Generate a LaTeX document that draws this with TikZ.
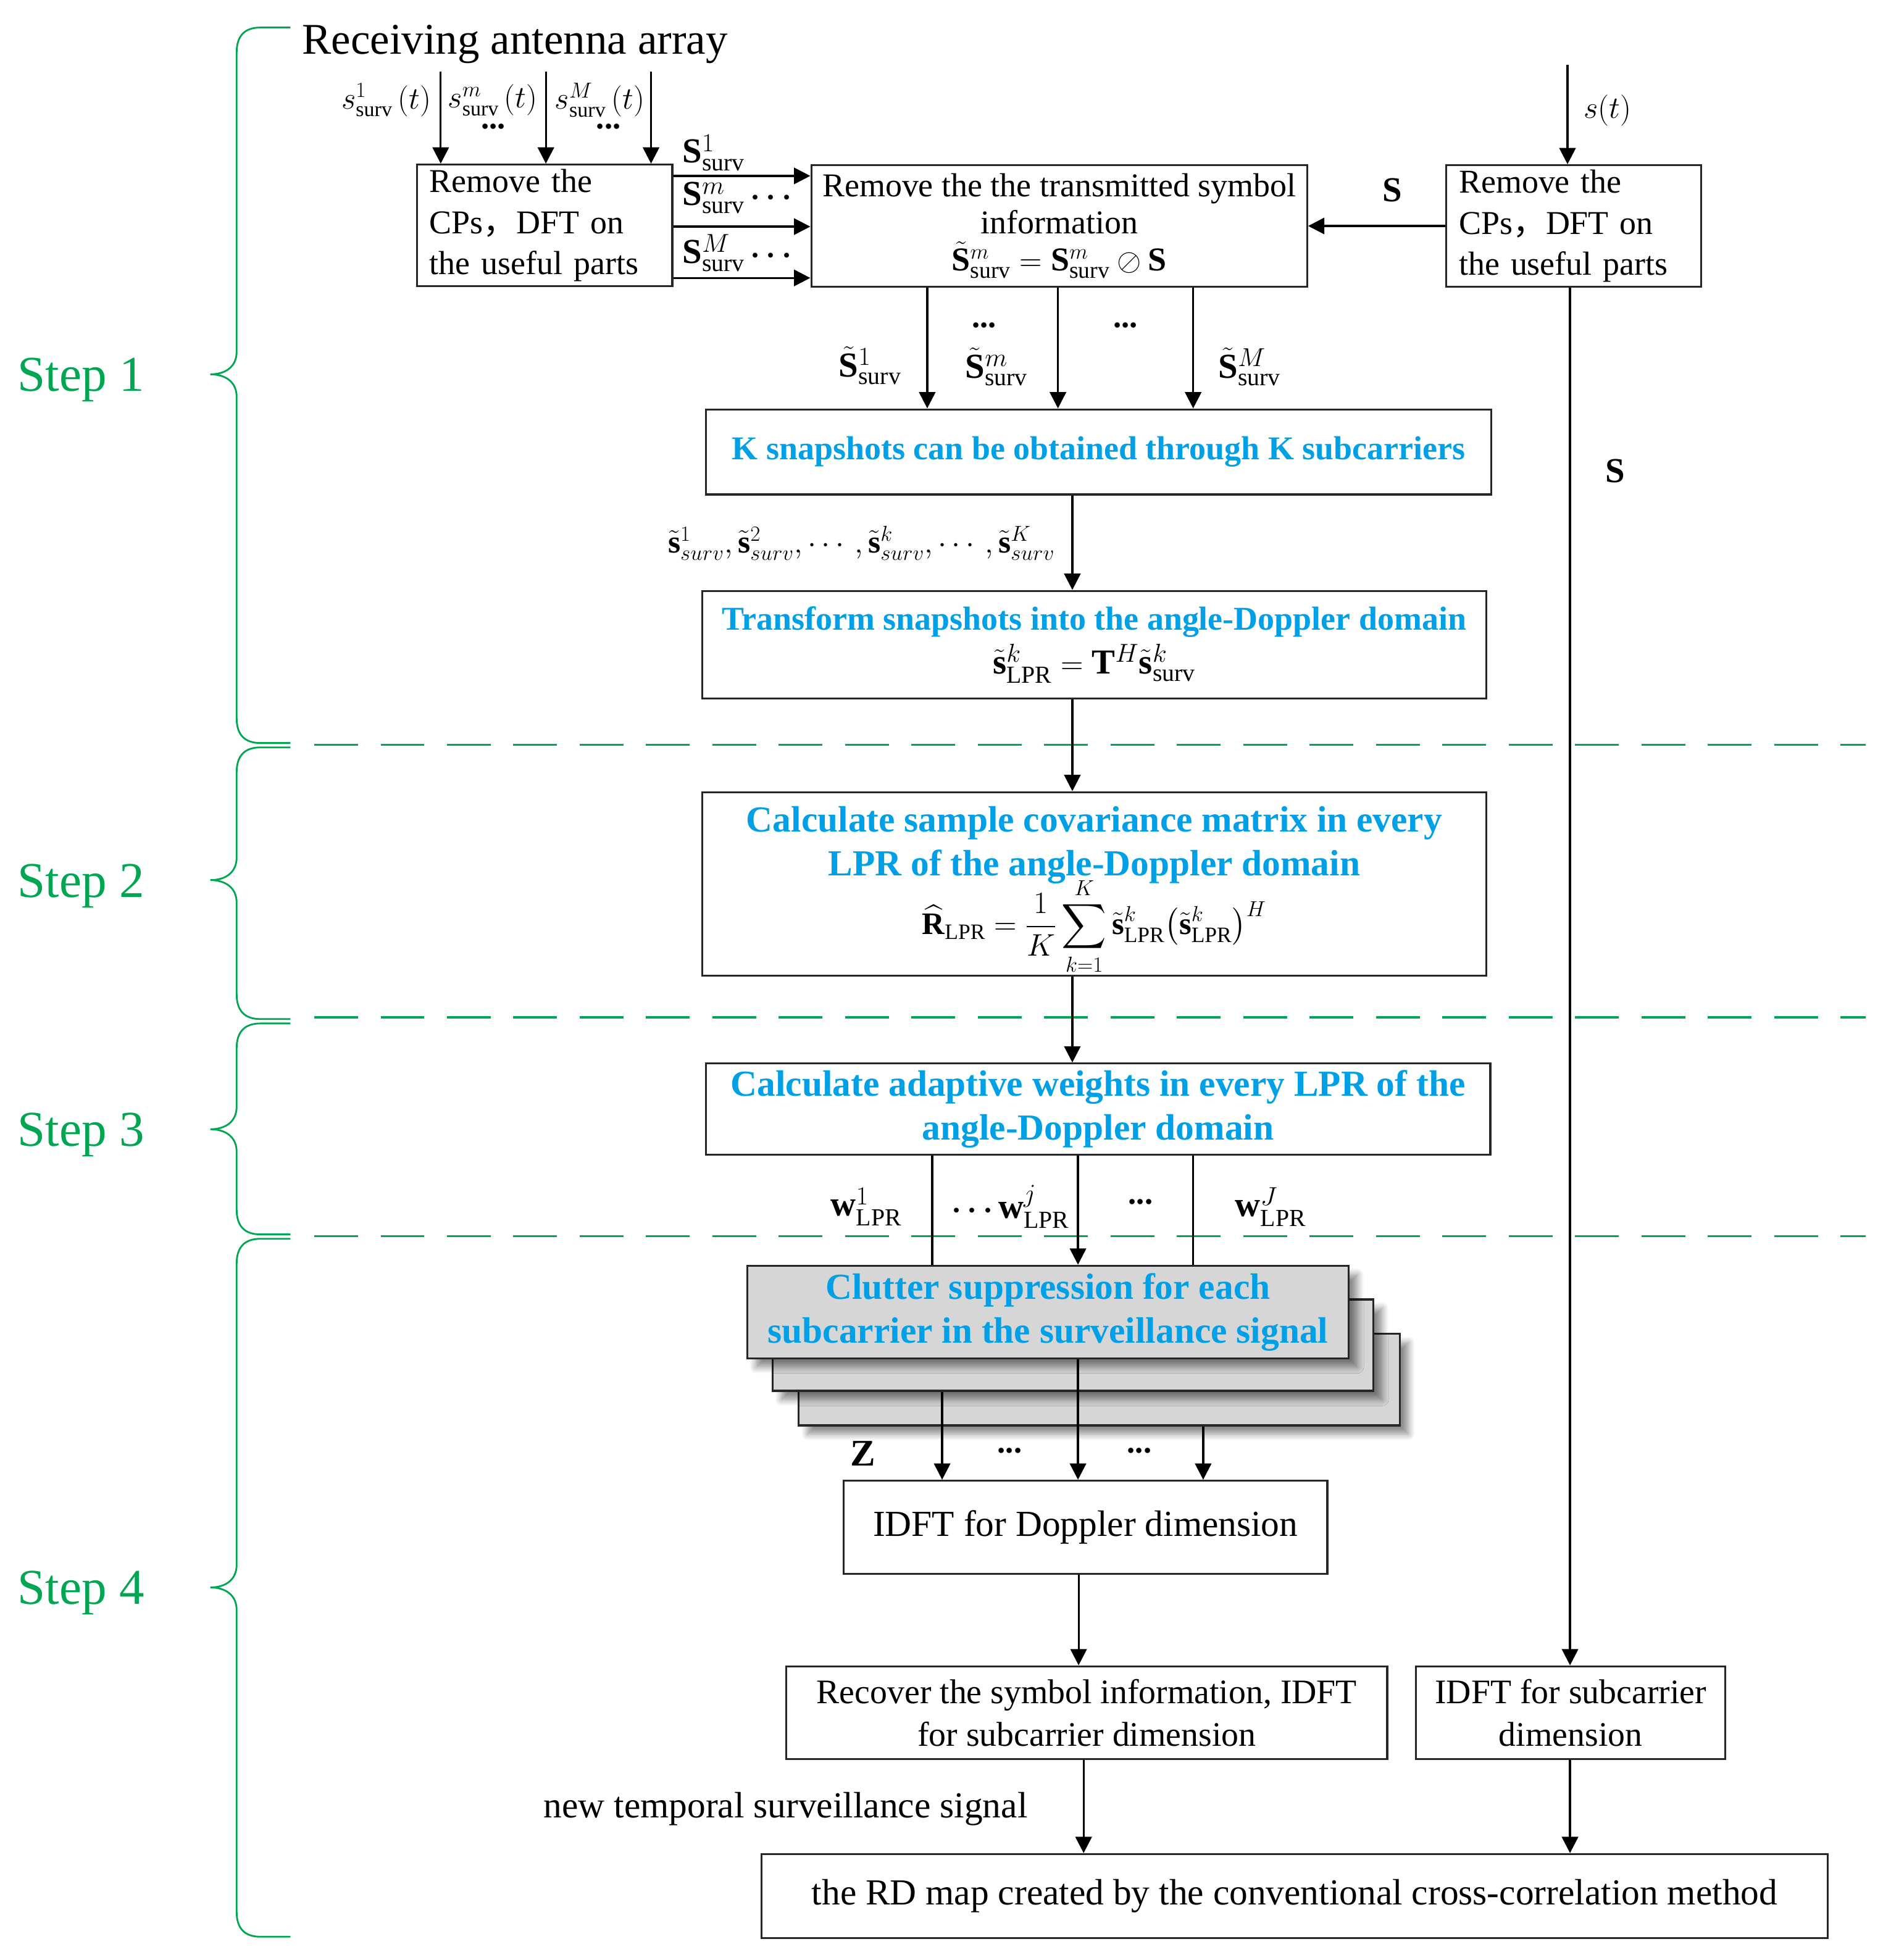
\documentclass[tikz,border=0pt]{standalone}
\usepackage{amsmath}
\usepackage{bm}
\usepackage{fontspec}
\setmainfont{Liberation Serif}
\newfontfamily\cjk{Noto Sans CJK SC}
\usepackage{tikz}
\usetikzlibrary{arrows.meta, calc, shadows, shadows.blur}
\definecolor{stepgreen}{RGB}{0,166,81}
\definecolor{procblue}{RGB}{0,160,230}

\begin{document}
\begin{tikzpicture}[x=1pt,y=1pt,yscale=-1,xscale=1,
    box/.style={draw=black!85, line width=1.6pt, fill=white, inner sep=0pt, font=\fontsize{26.6}{33}\selectfont},
    bluebox/.style={box, text=procblue, align=center, font=\bfseries\fontsize{29.3}{35.3}\selectfont},
    bigbox/.style={box, align=center, font=\fontsize{29.3}{35}\selectfont},
    stack/.style={box, fill=black!16, blur shadow={shadow xshift=7pt, shadow yshift=-7pt, shadow blur radius=5pt, shadow blur steps=8, shadow opacity=45}},
    arr/.style={line width=1.6pt, -{Triangle[length=13pt,width=13pt]}},
    wire/.style={line width=1.6pt},
    brc/.style={draw=stepgreen, line width=1.4pt},
    sep/.style={draw=stepgreen, line width=1.8pt, dash pattern=on 35pt off 18pt},
    lbl/.style={inner sep=0pt, font=\fontsize{28}{30}\selectfont},
    dts/.style={inner sep=0pt, font=\bfseries\fontsize{26}{28}\selectfont},
    steplbl/.style={anchor=base west, inner sep=0pt, text=stepgreen, font=\fontsize{40}{44}\selectfont}]
        \useasboundingbox (0,0) rectangle (1510,1565.6);

        %Step labels
        \node[steplbl] (step1) at (14,312.5) {Step 1};
        \node[steplbl] (step2) at (14,716.5) {Step 2};
        \node[steplbl] (step3) at (14,915.5) {Step 3};
        \node[steplbl] (step4) at (14,1281.5) {Step 4};

        %Brace of step 1
        \draw[brc] (232,22) -- (208,22) .. controls (195,22) and (189,29) .. (189,42) -- (189,281) .. controls (189,293) and (180,299) .. (168,299) .. controls (180,299) and (189,305) .. (189,317) -- (189,573.5) .. controls (189,586.5) and (195,593.5) .. (208,593.5) -- (232,593.5);
        %Brace of step 2
        \draw[brc] (232,597) -- (208,597) .. controls (195,597) and (189,604) .. (189,617) -- (189,685) .. controls (189,697) and (180,703) .. (168,703) .. controls (180,703) and (189,709) .. (189,721) -- (189,794) .. controls (189,807) and (195,814) .. (208,814) -- (232,814);
        %Brace of step 3
        \draw[brc] (232,817.5) -- (208,817.5) .. controls (195,817.5) and (189,824.5) .. (189,837.5) -- (189,884) .. controls (189,896) and (180,902) .. (168,902) .. controls (180,902) and (189,908) .. (189,920) -- (189,966) .. controls (189,979) and (195,986) .. (208,986) -- (232,986);
        %Brace of step 4
        \draw[brc] (232,989.5) -- (208,989.5) .. controls (195,989.5) and (189,996.5) .. (189,1009.5) -- (189,1250) .. controls (189,1262) and (180,1268) .. (168,1268) .. controls (180,1268) and (189,1274) .. (189,1286) -- (189,1527) .. controls (189,1540) and (195,1547) .. (208,1547) -- (232,1547);

        %Dashed separators
        \draw[sep] (251,595) -- (1490,595);
        \draw[sep] (251,812.5) -- (1490,812.5);
        \draw[sep] (251,987.5) -- (1490,987.5);

        %Title
        \node[anchor=base west, inner sep=0pt, font=\fontsize{35}{40}\selectfont] (recv) at (241,43) {Receiving antenna array};

        %Boxes of step 1
        \node[box, minimum width=204pt, minimum height=97pt, text width=184pt, align=left] (remcp) at (435,180) {Remove the\\ CPs{\cjk ，}DFT on\\ the useful parts};
        \node[box, minimum width=396pt, minimum height=97pt, align=center, font=\fontsize{26.6}{29.5}\selectfont] (remsym) at (846,180.5) {Remove the the transmitted symbol\\ information\\ $\tilde{\mathbf{S}}^{m}_{\mathrm{surv}}=\mathbf{S}^{m}_{\mathrm{surv}}\oslash\mathbf{S}$};
        \node[box, minimum width=203.5pt, minimum height=97pt, text width=183.5pt, align=left] (remref) at (1257,180.5) {Remove the\\ CPs{\cjk ，}DFT on\\ the useful parts};
        \node[bluebox, minimum width=627pt, minimum height=68pt, font=\bfseries\fontsize{26.6}{32}\selectfont] (ksnap) at (877.5,361) {K snapshots can be obtained through K subcarriers};
        \node[bluebox, minimum width=626pt, minimum height=86pt, font=\bfseries\fontsize{26.6}{35}\selectfont] (trans) at (874,515) {Transform snapshots into the angle-Doppler domain\\ {\color{black}\fontsize{28}{35}\selectfont$\tilde{\mathbf{s}}^{k}_{\mathrm{LPR}}=\mathbf{T}^{H}\tilde{\mathbf{s}}^{k}_{\mathrm{surv}}$}};

        %Box of step 2
        \node[bluebox, minimum width=626pt, minimum height=146.5pt] (covm) at (874,706) {\rule{0pt}{31pt}Calculate sample covariance matrix in every\\ LPR of the angle-Doppler domain\\[-6pt] {\color{black}\fontsize{25}{30}\selectfont$\displaystyle\widehat{\mathbf{R}}_{\mathrm{LPR}}=\frac{1}{K}\sum_{k=1}^{K}\tilde{\mathbf{s}}^{k}_{\mathrm{LPR}}\big(\tilde{\mathbf{s}}^{k}_{\mathrm{LPR}}\big)^{H}$}};

        %Box of step 3
        \node[bluebox, minimum width=626.6pt, minimum height=73pt] (wts) at (877,886) {Calculate adaptive weights in every LPR of the\\ angle-Doppler domain};

        %Boxes of step 4
        \node[stack, minimum width=480pt, minimum height=73pt] (clut3) at (878,1102) {};
        \node[stack, minimum width=480pt, minimum height=73pt] (clut2) at (857,1074.5) {};
        \node[stack, minimum width=480.5pt, minimum height=74pt, text=procblue, align=center, font=\bfseries\fontsize{29.3}{35}\selectfont] (clut1) at (837,1048) {Clutter suppression for each\\ subcarrier in the surveillance signal};
        \node[bigbox, minimum width=386.4pt, minimum height=74.5pt] (idftd) at (867,1220) {IDFT for Doppler dimension};
        \node[bigbox, minimum width=480pt, minimum height=74pt, font=\fontsize{27.5}{34}\selectfont] (recov) at (868,1368) {Recover the symbol information, IDFT\\ for subcarrier dimension};
        \node[bigbox, minimum width=247pt, minimum height=74pt, font=\fontsize{27.5}{34}\selectfont] (idfts) at (1254.5,1368) {IDFT for subcarrier\\ dimension};
        \node[bigbox, minimum width=851.6pt, minimum height=67pt] (rdmap) at (1034,1514.5) {the RD map created by the conventional cross-correlation method};

        %Free ends and x positions of the connectors
        \coordinate (ant1) at (352,57);
        \coordinate (ant2) at (436,57);
        \coordinate (ant3) at (520,57);
        \coordinate (sttop) at (1252,52);
        \coordinate (ra) at (537,140.5);
        \coordinate (rb) at (537,181);
        \coordinate (rc) at (537,222);
        \coordinate (ma) at (740.6,0);
        \coordinate (mb) at (845,0);
        \coordinate (mc) at (953,0);
        \coordinate (rx) at (1254,0);
        \coordinate (cx) at (856.5,0);
        \coordinate (wa) at (744.6,0);
        \coordinate (wb) at (861,0);
        \coordinate (wc) at (953,0);
        \coordinate (za) at (752.5,0);
        \coordinate (zb) at (861,0);
        \coordinate (zc) at (961,0);
        \coordinate (xd) at (861.5,0);
        \coordinate (xe) at (865.5,0);

        %Antenna inputs
        \draw[arr] (ant1) -- (ant1 |- remcp.north);
        \draw[arr] (ant2) -- (ant2 |- remcp.north);
        \draw[arr] (ant3) -- (ant3 |- remcp.north);
        \draw[arr] (sttop) -- (sttop |- remref.north);
        %Surveillance channels to symbol removal
        \draw[arr] (remcp.east |- ra) -- (remsym.west |- ra);
        \draw[arr] (remcp.east |- rb) -- (remsym.west |- rb);
        \draw[arr] (remcp.east |- rc) -- (remsym.west |- rc);
        %Reference symbols
        \draw[arr] (remref.west) -- (remsym.east);
        \draw[arr] (remref.south -| rx) -- (idfts.north -| rx);
        %Down to the snapshots
        \draw[arr] (remsym.south -| ma) -- (ksnap.north -| ma);
        \draw[arr] (remsym.south -| mb) -- (ksnap.north -| mb);
        \draw[arr] (remsym.south -| mc) -- (ksnap.north -| mc);
        \draw[arr] (ksnap.south -| cx) -- (trans.north -| cx);
        \draw[arr] (trans.south -| cx) -- (covm.north -| cx);
        \draw[arr] (covm.south -| cx) -- (wts.north -| cx);
        %Weights to clutter suppression
        \draw[wire] (wts.south -| wa) -- (clut1.north -| wa);
        \draw[arr] (wts.south -| wb) -- (clut1.north -| wb);
        \draw[wire] (wts.south -| wc) -- (clut1.north -| wc);
        %Clutter suppression to IDFT
        \draw[arr] (clut2.south -| za) -- (idftd.north -| za);
        \draw[arr] (clut1.south -| zb) -- (idftd.north -| zb);
        \draw[arr] (clut3.south -| zc) -- (idftd.north -| zc);
        \draw[arr] (idftd.south -| xd) -- (recov.north -| xd);
        \draw[arr] (recov.south -| xe) -- (rdmap.north -| xe);
        \draw[arr] (idfts.south -| rx) -- (rdmap.north -| rx);

        %Signal labels
        \node[lbl, font=\fontsize{24}{26}\selectfont] (lbsone) at (308.5,80) {$s^{1}_{\mathrm{surv}}\,(t)$};
        \node[lbl, font=\fontsize{24}{26}\selectfont] (lbsm) at (393.5,80) {$s^{m}_{\mathrm{surv}}\,(t)$};
        \node[lbl, font=\fontsize{24}{26}\selectfont] (lbsM) at (479,80) {$s^{M}_{\mathrm{surv}}\,(t)$};
        \node[dts] (dta) at (394,101) {...};
        \node[dts] (dtb) at (486,101) {...};
        \node[lbl, anchor=west] (lbSone) at (545,122) {$\mathbf{S}^{1}_{\mathrm{surv}}$};
        \node[lbl, anchor=west] (lbSm) at (545,158) {$\mathbf{S}^{m}_{\mathrm{surv}}\,\bm{\cdots}$};
        \node[lbl, anchor=west] (lbSM) at (545,202) {$\mathbf{S}^{M}_{\mathrm{surv}}\,\bm{\cdots}$};
        \node[lbl] (lbS) at (1112,152) {$\mathbf{S}$};
        \node[lbl, font=\fontsize{32}{34}\selectfont] (lbst) at (1284,88) {$s(t)$};
        \node[lbl] (lbtSone) at (695,292) {$\tilde{\mathbf{S}}^{1}_{\mathrm{surv}}$};
        \node[dts] (dtc) at (786,260) {...};
        \node[lbl] (lbtSm) at (796,293) {$\tilde{\mathbf{S}}^{m}_{\mathrm{surv}}$};
        \node[dts] (dtd) at (899,260) {...};
        \node[lbl] (lbtSM) at (998,293) {$\tilde{\mathbf{S}}^{M}_{\mathrm{surv}}$};
        \node[lbl] (lbSref) at (1290,376) {$\mathbf{S}$};
        \node[lbl, font=\fontsize{25.5}{28}\selectfont] (lbsk) at (688,434) {$\tilde{\mathbf{s}}^{1}_{surv},\tilde{\mathbf{s}}^{2}_{surv},\cdots,\tilde{\mathbf{s}}^{k}_{surv},\cdots,\tilde{\mathbf{s}}^{K}_{surv}$};
        \node[lbl] (lbwone) at (692,964) {$\mathbf{w}^{1}_{\mathrm{LPR}}$};
        \node[lbl] (lbwj) at (807,964) {$\bm{\cdots}\,\mathbf{w}^{j}_{\mathrm{LPR}}$};
        \node[dts] (dte) at (911,960) {...};
        \node[lbl] (lbwJ) at (1015,964) {$\mathbf{w}^{J}_{\mathrm{LPR}}$};
        \node[lbl, font=\fontsize{30}{32}\selectfont] (lbZ) at (689,1161) {$\mathbf{Z}$};
        \node[dts] (dtf) at (806.5,1159) {...};
        \node[dts] (dtg) at (910,1159) {...};
        \node[lbl, font=\fontsize{29.3}{32}\selectfont] (lbnew) at (627.5,1445) {new temporal surveillance signal};

    \end{tikzpicture}
\end{document}
